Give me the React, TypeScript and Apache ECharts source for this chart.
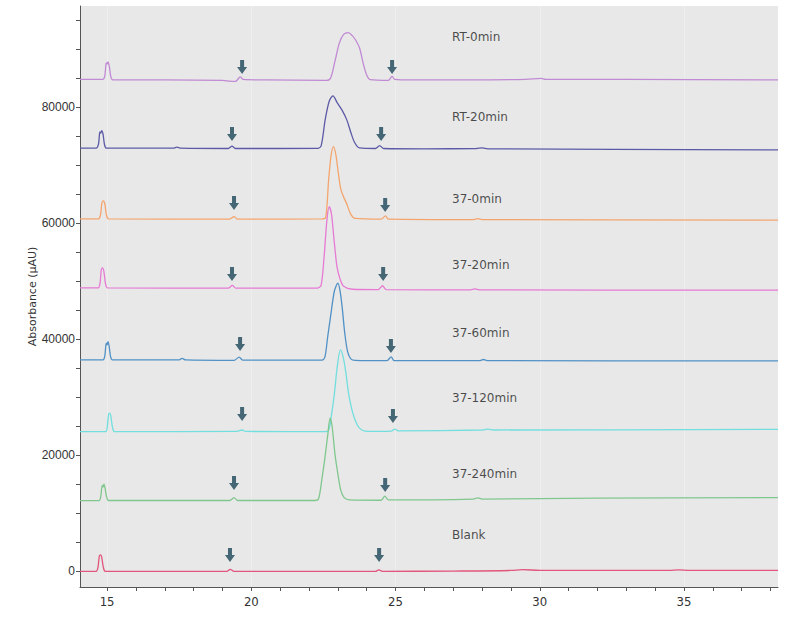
import React, { useEffect, useRef } from "react";
import * as echarts from "echarts";

// Retention time (min) vs absorbance (µAU)
const RT_0MIN: [number, number][] = [
  [14.06, 84750], [14.85, 84750], [14.92, 85360], [14.97, 87600], [15.0, 87400], [15.03, 87770], [15.08, 86900], [15.13, 85190], [15.2, 84670],
  [17.0, 84670], [19.0, 84580], [19.25, 84450], [19.45, 84410], [19.62, 85190], [19.72, 84750], [20.5, 84670],
  [22.6, 84580], [22.75, 85010], [22.9, 87900], [23.05, 91000], [23.2, 92500], [23.36, 92820], [23.5, 92300], [23.62, 91500],
  [23.75, 90200], [23.88, 87500], [24.0, 85500], [24.12, 84700], [24.75, 84580], [24.88, 85270], [24.97, 84750], [25.2, 84670],
  [27.5, 84670], [29.5, 84750], [30.05, 84930], [30.2, 84750], [33.0, 84750], [38.26, 84670],
];
const RT_20MIN: [number, number][] = [
  [14.06, 72900], [14.62, 72900], [14.7, 73600], [14.75, 75700], [14.78, 75500], [14.81, 75930], [14.86, 75300], [14.91, 73500], [14.98, 72900],
  [17.3, 72900], [17.42, 73100], [17.55, 72900], [19.2, 72850], [19.33, 73250], [19.45, 72850],
  [22.3, 72870], [22.42, 73300], [22.56, 77780], [22.7, 81000], [22.83, 81910], [22.98, 80700], [23.14, 79500], [23.31, 77780],
  [23.45, 75600], [23.58, 73900], [23.75, 72950], [24.3, 72850], [24.45, 73350], [24.58, 72850],
  [26.0, 72800], [27.8, 72850], [28.0, 72950], [28.2, 72800], [38.26, 72610],
];
const C37_0MIN: [number, number][] = [
  [14.06, 60720], [14.7, 60720], [14.77, 61400], [14.82, 63500], [14.87, 63820], [14.92, 63300], [14.98, 61300], [15.05, 60720],
  [19.25, 60680], [19.4, 61100], [19.52, 60680],
  [22.45, 60720], [22.58, 61000], [22.68, 67440], [22.77, 71800], [22.85, 73180], [22.93, 71800], [23.02, 68500], [23.1, 65900],
  [23.2, 64500], [23.3, 63400], [23.45, 61500], [23.6, 60800], [24.5, 60680], [24.65, 61250], [24.75, 60680],
  [27.7, 60600], [27.85, 60750], [28.0, 60600], [38.26, 60500],
];
const C37_20MIN: [number, number][] = [
  [14.06, 48830], [14.68, 48830], [14.75, 49500], [14.8, 52000], [14.84, 52280], [14.89, 51600], [14.95, 49400], [15.02, 48830],
  [19.2, 48800], [19.34, 49250], [19.46, 48800],
  [22.3, 48800], [22.42, 49300], [22.52, 54000], [22.62, 60500], [22.7, 62840], [22.78, 61500], [22.87, 57000], [22.97, 52500],
  [23.08, 50300], [23.2, 49100], [23.5, 48600], [24.4, 48550], [24.55, 49200], [24.67, 48550],
  [27.6, 48500], [27.75, 48650], [27.9, 48500], [38.26, 48450],
];
const C37_60MIN: [number, number][] = [
  [14.06, 36420], [14.86, 36420], [14.92, 37100], [14.97, 39300], [15.0, 39000], [15.03, 39580], [15.07, 38800], [15.12, 37000], [15.19, 36420],
  [17.5, 36420], [17.6, 36700], [17.72, 36420], [19.4, 36350], [19.58, 36900], [19.7, 36400],
  [22.45, 36400], [22.55, 36900], [22.65, 40500], [22.75, 44000], [22.88, 48300], [23.0, 49640], [23.08, 48200], [23.16, 45000],
  [23.24, 41000], [23.34, 37800], [23.45, 36600], [23.6, 36350], [24.7, 36300], [24.85, 36950], [24.95, 36300],
  [27.9, 36300], [28.05, 36500], [28.2, 36300], [38.26, 36250],
];
const C37_120MIN: [number, number][] = [
  [14.06, 24070], [14.95, 24070], [15.0, 24700], [15.05, 27000], [15.09, 27240], [15.13, 26700], [15.19, 24700], [15.26, 24070],
  [19.5, 24100], [19.68, 24350], [19.8, 24100],
  [22.55, 24070], [22.68, 24300], [22.78, 27000], [22.88, 30600], [22.98, 35300], [23.09, 38150], [23.18, 37000], [23.27, 34500],
  [23.37, 30700], [23.47, 28200], [23.56, 26600], [23.7, 25000], [23.85, 24300], [24.05, 24100], [24.85, 24150], [24.97, 24500],
  [25.1, 24200], [28.0, 24350], [28.2, 24500], [28.4, 24350], [38.26, 24450],
];
const C37_240MIN: [number, number][] = [
  [14.06, 12180], [14.72, 12180], [14.78, 12900], [14.83, 14800], [14.86, 14500], [14.89, 15010], [14.93, 14300], [14.98, 12900], [15.05, 12200],
  [19.25, 12200], [19.4, 12700], [19.52, 12200],
  [22.2, 12200], [22.33, 12500], [22.45, 16000], [22.55, 19500], [22.65, 23500], [22.73, 26380], [22.8, 25000], [22.9, 20200],
  [23.0, 16800], [23.1, 14000], [23.22, 12700], [23.4, 12300], [24.5, 12250], [24.63, 12950], [24.75, 12300],
  [27.7, 12450], [27.85, 12650], [28.0, 12450], [32.0, 12600], [38.26, 12700],
];
const BLANK: [number, number][] = [
  [14.06, 0], [14.62, 0], [14.68, 600], [14.73, 2600], [14.77, 2830], [14.81, 2500], [14.87, 700], [14.94, 0],
  [19.15, 0], [19.27, 350], [19.4, 0], [24.3, 0], [24.42, 250], [24.55, 0],
  [27.0, 50], [29.0, 150], [29.4, 300], [30.0, 150], [34.5, 150], [34.8, 250], [35.2, 150], [38.26, 150],
];

const TRACE_NAMES = ["RT-0min", "RT-20min", "37-0min", "37-20min", "37-60min", "37-120min", "37-240min", "Blank"];
const TRACE_DATA = [RT_0MIN, RT_20MIN, C37_0MIN, C37_20MIN, C37_60MIN, C37_120MIN, C37_240MIN, BLANK];
const TRACE_COLORS = ["#c08ad4", "#5c5aa6", "#f4a56e", "#e67ad4", "#5191c6", "#72dede", "#80c78e", "#e2557c"];

// Label anchor positions (retention time, absorbance)
const LABEL_RT = 26.94;
const LABEL_Y = [92110, 78200, 64110, 52730, 41100, 29890, 16830, 6300];

// Arrow marks (centre of arrow)
const ARROWS: [number, number][] = [
  [19.68, 86910], [24.88, 86910],
  [19.33, 75360], [24.5, 75360],
  [19.4, 63470], [24.64, 63130],
  [19.33, 51240], [24.57, 51240],
  [19.61, 39180], [24.84, 38840],
  [19.68, 27120], [24.91, 26780],
  [19.4, 15230], [24.64, 14890],
  [19.26, 2830], [24.43, 2830],
];

const X_LABELS = [15, 20, 25, 30, 35];
const X_TICKS = [15, 16, 17, 18, 19, 20, 21, 22, 23, 24, 25, 26, 27, 28, 29, 30, 31, 32, 33, 34, 35, 36, 37, 38];
const Y_LABELS = [0, 20000, 40000, 60000, 80000];
const Y_TICKS = [0, 5000, 10000, 15000, 20000, 25000, 30000, 35000, 40000, 45000, 50000, 55000, 60000, 65000, 70000, 75000, 80000, 85000, 90000, 95000];
const GRID_X = [15, 20, 25, 30, 35];

const ARROW_PATH = "path://M3,0L7,0L7,7L10,7L5,14L0,7L3,7Z";

export default function App() {
  const ref = useRef<HTMLDivElement>(null);
  useEffect(() => {
    document.body.style.margin = "0";
    const chart = echarts.init(ref.current as HTMLDivElement, null, { renderer: "svg" });
    const lineSeries = TRACE_DATA.map((d, i) => ({
      type: "line",
      name: TRACE_NAMES[i],
      data: d,
      showSymbol: false,
      smooth: 0.3,
      lineStyle: { color: TRACE_COLORS[i], width: 1.3 },
      itemStyle: { color: TRACE_COLORS[i] },
      z: 3,
    }));
    chart.setOption({
      animation: false,
      backgroundColor: "#ffffff",
      grid: {
        left: 80,
        right: 12,
        top: 6,
        bottom: 36,
        show: true,
        backgroundColor: "#e8e8e8",
        borderWidth: 0,
        containLabel: false,
        outerBoundsMode: "none",
      },
      xAxis: {
        type: "value",
        min: 14.06,
        max: 38.26,
        axisLine: { show: true, onZero: false, lineStyle: { color: "#555555", width: 1 } },
        axisTick: { show: true, customValues: X_TICKS, length: 4, lineStyle: { color: "#555555" } },
        axisLabel: {
          customValues: X_LABELS,
          color: "#333333",
          fontSize: 13,
          fontFamily: "'Liberation Sans Narrow', 'DejaVu Sans Condensed', sans-serif",
          margin: 8,
          formatter: (v: number) => String(v),
        },
        splitLine: { show: false },
      },
      yAxis: {
        type: "value",
        min: -2700,
        max: 97400,
        name: "Absorbance (µAU)",
        nameLocation: "middle",
        nameGap: 42,
        nameMoveOverlap: false,
        nameTextStyle: { color: "#333333", fontSize: 11, fontFamily: "'DejaVu Sans', sans-serif" },
        axisLine: { show: true, onZero: false, lineStyle: { color: "#555555", width: 1 } },
        axisTick: { show: true, customValues: Y_TICKS, length: 4, lineStyle: { color: "#555555" } },
        axisLabel: {
          customValues: Y_LABELS,
          color: "#333333",
          fontSize: 12,
          fontFamily: "'Liberation Sans', Arial, sans-serif",
          margin: 5,
          formatter: (v: number) => String(v),
        },
        splitLine: { show: false },
      },
      series: [
        ...lineSeries,
        {
          type: "scatter",
          name: "arrows",
          data: ARROWS,
          symbol: ARROW_PATH,
          symbolSize: [10, 14],
          itemStyle: { color: "#1c4658" },
          z: 5,
          silent: true,
        },
        {
          type: "scatter",
          name: "labels",
          data: TRACE_NAMES.map((n, i) => ({ name: n, value: [LABEL_RT, LABEL_Y[i]] })),
          symbolSize: 1,
          itemStyle: { color: "rgba(0,0,0,0)" },
          label: {
            show: true,
            position: "right",
            distance: 0,
            formatter: "{b}",
            color: "#1e1e1e",
            fontSize: 12,
            fontFamily: "'DejaVu Sans', sans-serif",
          },
          markLine: {
            silent: true,
            symbol: "none",
            label: { show: false },
            lineStyle: { color: "#eeeeee", width: 1, type: "solid" },
            data: GRID_X.map((x) => ({ xAxis: x })),
            z: 1,
          },
          z: 6,
        },
      ],
    });
    return () => chart.dispose();
  }, []);
  return <div ref={ref} style={{ position: "fixed", left: 0, top: 0, width: 790, height: 623 }} />;
}
